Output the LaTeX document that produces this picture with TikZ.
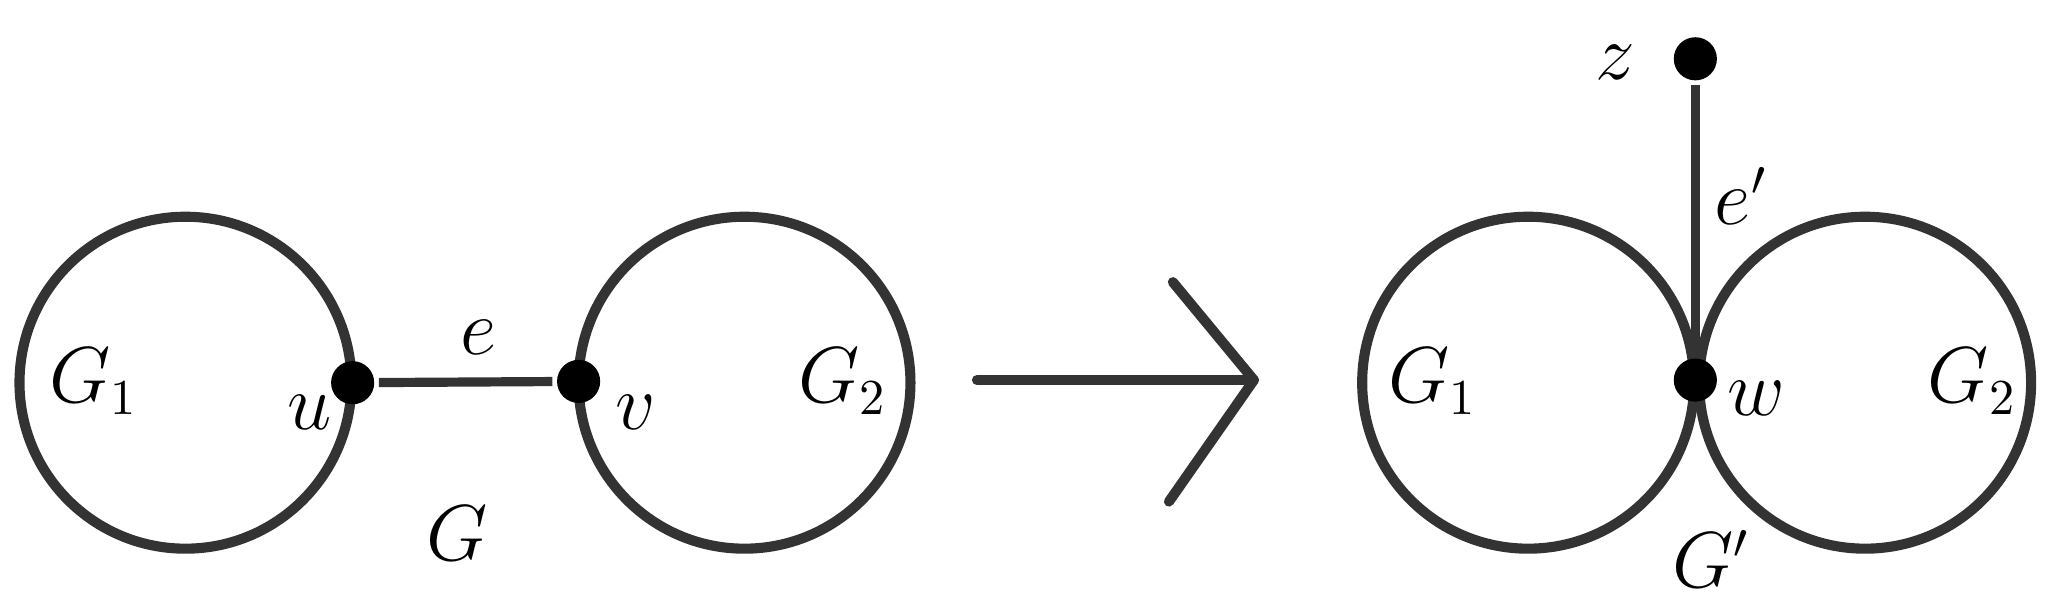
\documentclass[tikz,border=0pt]{standalone}
\usepackage{amsmath}
\usepackage{tikz}
\usetikzlibrary{positioning}

\begin{document}
\begin{tikzpicture}[x=0.01cm,y=-0.01cm,
    line width=2pt, draw={rgb,255:red,51;green,51;blue,51},
    vertex/.style={circle, fill=black, inner sep=0pt, minimum size=0.33cm},
    blob/.style={circle, draw={rgb,255:red,51;green,51;blue,51}, line width=2.2pt, minimum size=2.54cm, inner sep=0pt},
    lbl/.style={font=\fontsize{16}{19}\selectfont}]
  \useasboundingbox (0,0) rectangle (1568,466);
  % G
  \node[blob] (gone) at (142,293) {};
  \node[blob] (gtwo) at (570,293) {};
  \node[vertex] (u) at (270,293) {};
  \node[vertex] (v) at (443,292) {};
  \draw (u) -- (v);
  \node[lbl] at (72,292) {$G_1$};
  \node[lbl] at (645,292) {$G_2$};
  \node[lbl] at (237,316) {$u$};
  \node[lbl] at (487,316) {$v$};
  \node[lbl] at (366,258) {$e$};
  \node[lbl] at (350,408) {$G$};

  % arrow
  \coordinate (tail) at (748,291);
  \coordinate (tip) at (960,291);
  \coordinate (hup) at (898,216);
  \coordinate (hdown) at (895,384);
  \draw[line width=2.2pt, line cap=round] (tail) -- (tip);
  \draw[line width=2.2pt, line cap=round, line join=round] (hup) -- (tip) -- (hdown);

  % G'
  \node[blob] (hone) at (1170,293) {};
  \node[blob] (htwo) at (1428,293) {};
  \node[vertex] (w) at (1298,291) {};
  \node[vertex] (z) at (1298,45) {};
  \draw (z) -- (w);
  \node[lbl] at (1097,292) {$G_1$};
  \node[lbl] at (1510,292) {$G_2$};
  \node[lbl] at (1345,305) {$w$};
  \node[lbl] at (1237,48) {$z$};
  \node[lbl] at (1333,150) {$e'$};
  \node[lbl] at (1310,428) {$G'$};
\end{tikzpicture}
\end{document}
